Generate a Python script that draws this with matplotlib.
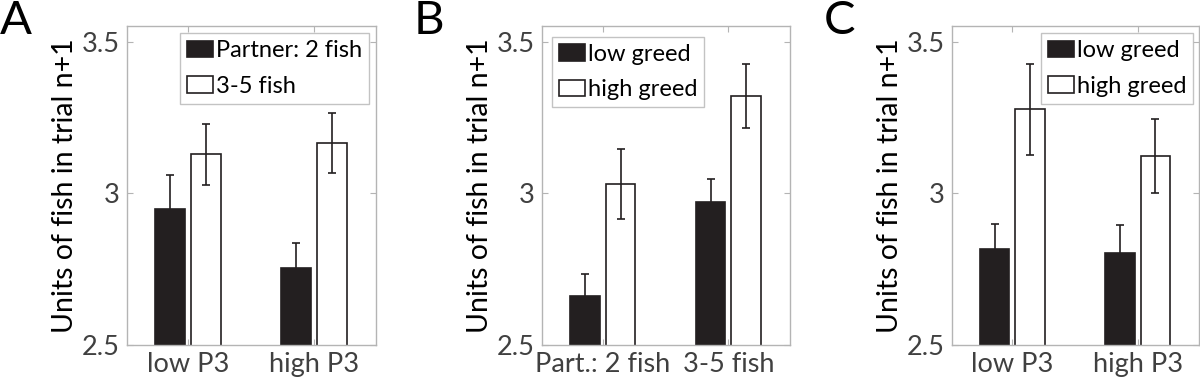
import matplotlib
matplotlib.use("Agg")
import matplotlib.pyplot as plt
import numpy as np

plt.rcParams['font.family'] = ['Lato', 'DejaVu Sans']

# Panel A
a_groups = ["low P3", "high P3"]
a_series = ["Partner: 2 fish", "3-5 fish"]
a_means = [[2.947, 2.753], [3.129, 3.167]]
a_errs = [[0.114, 0.084], [0.100, 0.099]]

# Panel B
b_groups = ["Part.: 2 fish", "3-5 fish"]
b_series = ["low greed", "high greed"]
b_means = [[2.663, 2.970], [3.032, 3.321]]
b_errs = [[0.070, 0.077], [0.115, 0.107]]

# Panel C
c_groups = ["low P3", "high P3"]
c_series = ["low greed", "high greed"]
c_means = [[2.818, 2.805], [3.277, 3.124]]
c_errs = [[0.082, 0.090], [0.151, 0.122]]

yticks = [2.5, 3.0, 3.5]
ytick_labels = ["2.5", "3", "3.5"]
ylabel = "Units of fish in trial n+1"
letters = ["A", "B", "C"]

W, H = 1200, 383
fig = plt.figure(figsize=(W / 100, H / 100), dpi=100)

panels = [
    (a_groups, a_series, a_means, a_errs, (126.7, 375.7), dict(loc='upper right', bbox_to_anchor=(0.973, 0.977))),
    (b_groups, b_series, b_means, b_errs, (541.7, 790.0), dict(loc='upper left', bbox_to_anchor=(0.043, 0.966))),
    (c_groups, c_series, c_means, c_errs, (951.7, 1199.0), dict(loc='upper right', bbox_to_anchor=(0.977, 0.977))),
]
letter_x = [0, 414, 824]

spine_col = '#b4b4b4'
tick_col = '#404040'
fills = ['#231f20', 'white']
width = 0.235
offsets = [-0.142, 0.142]

for i, (groups, series, means, errs, (x0, x1), legkw) in enumerate(panels):
    ax = fig.add_axes([x0 / W, (H - 345) / H, (x1 - x0) / W, (345 - 26) / H])
    x = np.arange(1, len(groups) + 1)
    for s in range(len(series)):
        ax.bar(x + offsets[s], means[s], width=width, color=fills[s],
               edgecolor='#231f20', linewidth=1.2, label=series[s], zorder=2)
        ax.errorbar(x + offsets[s], means[s], yerr=errs[s], fmt='none',
                    ecolor='#231f20', elinewidth=1.2, capsize=3, capthick=1.2, zorder=3)
    ax.set_xlim(0.515, 2.49)
    ax.set_ylim(2.5, 3.552)
    ax.set_xticks(x)
    ax.set_xticklabels(groups, fontsize=19.5, color=tick_col)
    ax.set_yticks(yticks)
    ax.set_yticklabels(ytick_labels, fontsize=19.5, color=tick_col)
    ax.tick_params(direction='in', length=4, width=0.8, colors=spine_col,
                   labelcolor=tick_col, top=True, right=True, pad=5)
    for sp in ax.spines.values():
        sp.set_color(spine_col)
        sp.set_linewidth(1.0)
    ax.set_ylabel(ylabel, fontsize=20.5, color='black', labelpad=3)
    leg = ax.legend(fontsize=17, frameon=True, fancybox=False, edgecolor=spine_col,
                    handlelength=1.1, handleheight=0.7, handletextpad=0.1,
                    borderpad=0.3, labelspacing=0.6, borderaxespad=0, **legkw)
    leg.get_frame().set_linewidth(1.0)
    fig.text(letter_x[i] / W, 1 - 0 / H, letters[i], fontsize=34, ha='left', va='top',
             color='black')

fig.savefig("out.png", dpi=100)
